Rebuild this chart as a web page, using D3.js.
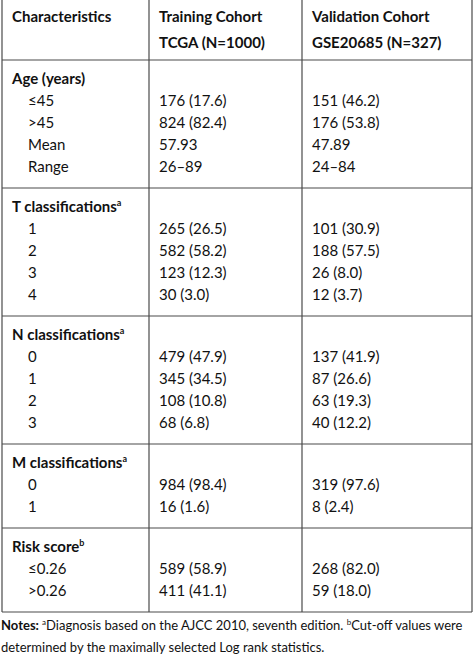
<!DOCTYPE html>
<html><head><meta charset="utf-8">
<script src="https://cdn.jsdelivr.net/npm/d3@7"></script>
<style>body{margin:0;background:#fff}text{font-family:Lato,"Open Sans",sans-serif;fill:#111}</style>
</head><body><svg id="c" width="474" height="668"></svg>
<script>
const headers = [["Characteristics",""],["Training Cohort","TCGA (N=1000)"],["Validation Cohort","GSE20685 (N=327)"]];
const sections = [
  {title:"Age (years)", sup:"", rows:[["≤45","176 (17.6)","151 (46.2)"],[">45","824 (82.4)","176 (53.8)"],["Mean","57.93","47.89"],["Range","26–89","24–84"]]},
  {title:"T classifications", sup:"a", rows:[["1","265 (26.5)","101 (30.9)"],["2","582 (58.2)","188 (57.5)"],["3","123 (12.3)","26 (8.0)"],["4","30 (3.0)","12 (3.7)"]]},
  {title:"N classifications", sup:"a", rows:[["0","479 (47.9)","137 (41.9)"],["1","345 (34.5)","87 (26.6)"],["2","108 (10.8)","63 (19.3)"],["3","68 (6.8)","40 (12.2)"]]},
  {title:"M classifications", sup:"a", rows:[["0","984 (98.4)","319 (97.6)"],["1","16 (1.6)","8 (2.4)"]]},
  {title:"Risk score", sup:"b", rows:[["≤0.26","589 (58.9)","268 (82.0)"],[">0.26","411 (41.1)","59 (18.0)"]]}
];
const svg = d3.select("#c");
const colX = [2,149,302,472];
const lineC = "#4a4a4a";
const fs = 15, rowH = 22;
let y = 60;
const hLines = [y];
const hy = d3.scaleLinear().domain([0,1]).range([22,48]);
headers.forEach((h,i)=>h.forEach((t,j)=>svg.append("text").attr("x",colX[i]+10).attr("y",hy(j)).attr("font-size",fs).attr("font-weight","bold").text(t)));
sections.forEach(s=>{
  let ty = y+24;
  const t = svg.append("text").attr("x",12).attr("y",ty).attr("font-size",fs).attr("font-weight","bold").text(s.title);
  if(s.sup) t.append("tspan").attr("dy",-6).attr("font-size",9).text(s.sup);
  s.rows.forEach((r,k)=>{
    const ry = ty + rowH*(k+1);
    r.forEach((v,i)=>svg.append("text").attr("x",i===0?28:colX[i]+10).attr("y",ry).attr("font-size",fs).text(v));
  });
  y = ty + rowH*s.rows.length + 16;
  hLines.push(y);
});
hLines.forEach(ly=>svg.append("line").attr("x1",colX[0]).attr("x2",colX[3]).attr("y1",ly).attr("y2",ly).attr("stroke",lineC).attr("stroke-width",1.2));
colX.forEach(x=>svg.append("line").attr("x1",x).attr("x2",x).attr("y1",0).attr("y2",y).attr("stroke",lineC).attr("stroke-width",1.2));
const n1 = svg.append("text").attr("x",1).attr("y",y+18).attr("font-size",13);
n1.append("tspan").attr("font-weight","bold").text("Notes: ");
n1.append("tspan").attr("dy",-5).attr("font-size",8).text("a");
n1.append("tspan").attr("dy",5).text("Diagnosis based on the AJCC 2010, seventh edition. ");
n1.append("tspan").attr("dy",-5).attr("font-size",8).text("b");
n1.append("tspan").attr("dy",5).text("Cut-off values were");
svg.append("text").attr("x",1).attr("y",y+40).attr("font-size",13).text("determined by the maximally selected Log rank statistics.");
</script></body></html>
